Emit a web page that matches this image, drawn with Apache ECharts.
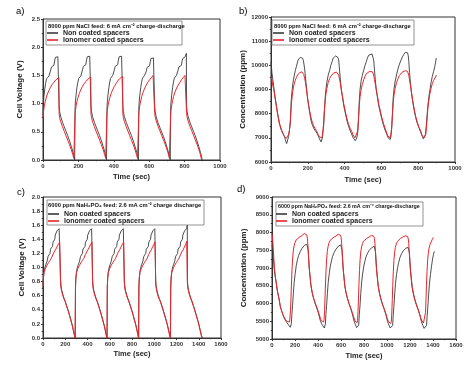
<!DOCTYPE html>
<html><head><meta charset="utf-8">
<script src="https://cdn.jsdelivr.net/npm/echarts@6/dist/echarts.min.js"></script>
<style>html,body{margin:0;padding:0;background:#fff}#c{width:474px;height:369px}</style>
</head><body><div id="c"></div>
<script>
// ---------- DATA ----------
const seriesNames = ['Non coated spacers', 'Ionomer coated spacers'];
const titles = [
  '8000 ppm NaCl feed: 6 mA cm\u207B\u00B2 charge-discharge',
  '8000 ppm NaCl feed: 6 mA cm\u207B\u00B2 charge-discharge',
  '6000 ppm NaH\u2082PO\u2084 feed: 2.6 mA cm\u207B\u00B2 charge discharge',
  '6000 ppm NaH\u2082PO\u2084 feed: 2.6 mA cm\u207B\u00B2 charge-discharge'
];
const panelLabels = ['a)', 'b)', 'c)', 'd)'];
const xNames = ['Time (sec)', 'Time (sec)', 'Time (sec)', 'Time (sec)'];
const yNames = ['Cell Voltage (V)', 'Concentration (ppm)', 'Cell Voltage (V)', 'Concentration (ppm)'];

// panel a: cell voltage, NaCl
const aBlack = [[0,0.8],[2,1.0],[5,1.12],[10,1.26],[15,1.36],[20,1.44],[27,1.47],[34,1.49],[40,1.52],[44,1.6],[48,1.65],[55,1.66],[62,1.68],[66,1.76],[70,1.82],[76,1.84],[84,1.83],[90,1.82],
[91,0.96],[94,0.86],[100,0.77],[110,0.67],[120,0.59],[130,0.51],[140,0.43],[150,0.34],[160,0.24],[170,0.13],[177,0.04],[179,0],
[181,0.9],[183,1.03],[187,1.16],[192,1.29],[197,1.38],[202,1.45],[208,1.47],[214,1.49],[220,1.52],[224,1.61],[228,1.66],[235,1.66],[242,1.69],[246,1.77],[250,1.83],[256,1.85],[264,1.84],[270,1.83],
[271,0.96],[274,0.86],[280,0.77],[290,0.67],[300,0.59],[310,0.51],[320,0.43],[330,0.34],[340,0.24],[350,0.13],[357,0.04],[359,0],
[361,0.88],[363,1.02],[367,1.15],[372,1.28],[377,1.38],[382,1.45],[388,1.48],[394,1.5],[400,1.53],[404,1.61],[408,1.66],[415,1.67],[422,1.69],[426,1.77],[430,1.83],[436,1.85],[444,1.84],[450,1.82],
[451,0.96],[454,0.86],[460,0.77],[470,0.67],[480,0.59],[490,0.51],[500,0.43],[510,0.34],[520,0.24],[530,0.13],[537,0.04],[539,0],
[541,0.88],[543,1.02],[547,1.15],[552,1.28],[557,1.38],[562,1.45],[568,1.48],[574,1.5],[580,1.52],[584,1.58],[588,1.64],[595,1.65],[602,1.67],[606,1.74],[610,1.8],[616,1.82],[624,1.81],[630,1.81],
[631,0.95],[634,0.85],[640,0.76],[650,0.66],[660,0.58],[670,0.5],[680,0.42],[690,0.33],[700,0.23],[710,0.12],[717,0.04],[719,0],
[721,0.88],[723,1.02],[727,1.15],[732,1.28],[737,1.38],[742,1.45],[748,1.48],[754,1.5],[760,1.52],[764,1.6],[768,1.65],[775,1.66],[782,1.68],[786,1.76],[790,1.8],[796,1.82],[803,1.83],[807,1.85],[810,1.89],
[811,0.96],[814,0.86],[820,0.77],[830,0.67],[840,0.59],[850,0.51],[860,0.43],[870,0.34],[880,0.24],[890,0.13],[897,0.04],[899,0]];
const aRed = [[0,0.75],[3,0.86],[7,0.95],[12,1.03],[18,1.1],[25,1.17],[33,1.23],[42,1.29],[52,1.34],[62,1.38],[72,1.42],[82,1.45],[90,1.46],
[91,0.83],[94,0.75],[100,0.68],[110,0.59],[120,0.51],[130,0.43],[140,0.35],[150,0.27],[160,0.18],[168,0.1],[174,0.03],[177,0],
[180,0],[181,0.78],[183,0.87],[187,0.96],[192,1.04],[198,1.11],[205,1.18],[213,1.24],[222,1.3],[232,1.35],[242,1.39],[252,1.43],[262,1.46],[270,1.47],
[271,0.83],[274,0.75],[280,0.68],[290,0.59],[300,0.51],[310,0.43],[320,0.35],[330,0.27],[340,0.18],[348,0.1],[354,0.03],[357,0],
[360,0],[361,0.78],[363,0.87],[367,0.96],[372,1.04],[378,1.11],[385,1.18],[393,1.24],[402,1.3],[412,1.35],[422,1.4],[432,1.44],[442,1.47],[450,1.48],
[451,0.83],[454,0.75],[460,0.68],[470,0.59],[480,0.51],[490,0.43],[500,0.35],[510,0.27],[520,0.18],[528,0.1],[534,0.03],[537,0],
[540,0],[541,0.79],[543,0.88],[547,0.97],[552,1.05],[558,1.13],[565,1.2],[573,1.26],[582,1.32],[592,1.38],[602,1.42],[612,1.46],[622,1.5],[630,1.52],
[631,0.84],[634,0.76],[640,0.69],[650,0.6],[660,0.52],[670,0.44],[680,0.36],[690,0.28],[700,0.19],[708,0.11],[714,0.03],[717,0],
[720,0],[721,0.79],[723,0.88],[727,0.97],[732,1.05],[738,1.13],[745,1.2],[753,1.26],[762,1.32],[772,1.37],[782,1.42],[792,1.46],[802,1.5],[810,1.52],
[811,0.84],[814,0.76],[820,0.69],[830,0.6],[840,0.52],[850,0.44],[860,0.36],[870,0.28],[880,0.19],[888,0.11],[894,0.03],[897,0]];

// panel b: concentration, NaCl
const bBlack = [[0,10150],[5,9700],[10,9400],[15,9120],[22,8700],[28,8400],[33,8160],[40,7850],[45,7650],[50,7470],[57,7300],[63,7200],[69,7120],[74,7050],[78,6920],[82,6850],[85,6760],[87,6680],[90,6720],[93,6800],[96,7060],[100,7300],[105,7600],[110,8570],[114,8900],[118,9190],[122,9400],[127,9600],[132,9780],[138,9950],[143,10100],[147,10220],[153,10280],[159,10330],[165,10320],[172,10290],[176,10200],[178,10150],
[183,9850],[187,9530],[192,9150],[196,8840],[200,8550],[205,8300],[211,8000],[217,7740],[224,7550],[232,7400],[240,7300],[250,7190],[257,7080],[264,6950],[268,6870],[272,6830],[275,6880],[279,6990],[283,7300],[286,7470],[290,8100],[295,8700],[299,9050],[304,9320],[311,9600],[319,9800],[325,10000],[332,10150],[338,10300],[344,10380],[352,10390],[359,10360],[364,10320],[368,10220],
[372,9850],[377,9390],[382,9000],[388,8700],[395,8350],[404,8020],[413,7700],[422,7470],[431,7280],[440,7120],[447,7000],[453,6920],[458,6880],[462,6890],[466,6990],[471,7190],[475,7700],[480,8570],[484,9000],[489,9320],[496,9580],[504,9800],[511,10000],[518,10150],[524,10300],[531,10420],[540,10460],[549,10470],[554,10420],[558,10220],
[562,9850],[567,9400],[572,9000],[578,8700],[585,8350],[594,8050],[603,7750],[612,7500],[621,7300],[630,7130],[637,7000],[643,6920],[648,6930],[652,7050],[656,7400],[660,8000],[664,8650],[669,9050],[675,9350],[682,9600],[690,9850],[698,10050],[706,10200],[714,10350],[722,10450],[730,10540],[737,10570],[742,10520],[746,10400],[749,10150],
[753,9700],[758,9250],[764,8850],[770,8500],[778,8150],[786,7850],[795,7600],[805,7400],[815,7200],[823,7050],[828,6960],[832,6940],[836,6990],[840,7150],[844,7500],[848,7900],[852,8300],[858,8700],[864,9000],[870,9300],[877,9550],[884,9750],[890,9950],[894,10100],[898,10300]];
const bRed = [[0,9530],[5,9400],[10,9150],[15,9000],[22,8650],[28,8350],[33,8100],[40,7800],[45,7600],[50,7500],[57,7330],[63,7230],[69,7150],[72,7050],[75,7120],[78,7000],[81,7080],[84,6980],[87,7050],[90,6950],[93,7020],[96,7150],[100,7300],[105,7700],[110,8300],[114,8650],[118,8900],[122,9100],[127,9250],[132,9380],[138,9500],[144,9600],[150,9650],[156,9700],[162,9720],[168,9730],[174,9700],[178,9620],
[183,9450],[187,9300],[192,9050],[196,8800],[200,8580],[205,8350],[211,8080],[217,7850],[224,7650],[232,7500],[240,7380],[250,7250],[255,7150],[259,7220],[263,7050],[267,7100],[270,6980],[273,7050],[276,6990],[279,7100],[283,7350],[286,7600],[290,8100],[295,8550],[299,8850],[304,9050],[311,9300],[319,9450],[325,9550],[332,9630],[340,9680],[348,9700],[356,9720],[362,9690],[368,9600],
[372,9450],[377,9250],[382,9000],[388,8750],[395,8420],[404,8080],[413,7780],[422,7550],[431,7380],[440,7250],[444,7150],[447,7230],[450,7080],[453,7120],[456,7000],[459,7060],[462,6990],[466,7080],[471,7280],[475,7700],[480,8350],[484,8700],[489,8950],[496,9200],[504,9400],[511,9550],[518,9650],[526,9700],[534,9740],[542,9760],[550,9740],[555,9700],[558,9600],
[562,9420],[567,9220],[572,9000],[578,8750],[585,8420],[594,8120],[603,7820],[612,7580],[621,7380],[627,7250],[630,7180],[634,7100],[637,7150],[640,7030],[643,7080],[646,6990],[649,7050],[652,7150],[656,7450],[660,7950],[664,8450],[669,8800],[675,9050],[682,9280],[690,9450],[698,9580],[706,9660],[714,9720],[722,9760],[730,9780],[737,9780],[742,9750],[746,9680],[749,9580],
[753,9400],[758,9150],[764,8850],[770,8550],[778,8200],[786,7900],[795,7650],[805,7420],[815,7250],[820,7120],[823,7180],[826,7050],[829,7100],[832,7000],[835,7060],[838,7020],[841,7150],[845,7450],[849,7850],[853,8250],[858,8550],[864,8850],[870,9050],[877,9250],[884,9380],[890,9450],[895,9520],[898,9600]];

// panel c: cell voltage, NaH2PO4
const cBlack = [[0,0.71],[3,0.83],[8,0.93],[15,0.99],[25,1.04],[35,1.08],[42,1.1],[46,1.16],[55,1.18],[63,1.2],[67,1.26],[78,1.28],[86,1.3],[90,1.36],[100,1.38],[106,1.4],[110,1.46],[122,1.48],[126,1.52],[138,1.53],[145,1.55],[152,1.55],[157,1.54],
[158,0.82],[162,0.74],[168,0.68],[178,0.62],[190,0.56],[200,0.52],[212,0.46],[225,0.4],[238,0.33],[250,0.26],[262,0.19],[272,0.12],[282,0.05],[290,0],
[292,0.7],[295,0.83],[300,0.93],[307,0.99],[317,1.04],[327,1.08],[334,1.1],[338,1.16],[347,1.18],[355,1.2],[359,1.26],[370,1.28],[378,1.3],[382,1.36],[392,1.38],[398,1.4],[402,1.46],[414,1.48],[418,1.52],[430,1.53],[437,1.55],[442,1.55],[445,1.54],
[446,0.82],[450,0.74],[456,0.68],[466,0.62],[478,0.56],[488,0.52],[500,0.46],[512,0.4],[525,0.33],[537,0.26],[549,0.19],[559,0.12],[568,0.05],[576,0],
[578,0.7],[581,0.83],[586,0.93],[593,0.99],[603,1.04],[612,1.08],[619,1.1],[623,1.16],[632,1.18],[640,1.2],[644,1.26],[655,1.28],[663,1.3],[667,1.36],[677,1.38],[683,1.4],[687,1.46],[699,1.48],[703,1.52],[715,1.53],[722,1.55],[727,1.55],[730,1.54],
[731,0.82],[735,0.74],[741,0.68],[751,0.62],[763,0.56],[773,0.52],[785,0.46],[797,0.4],[810,0.33],[822,0.26],[834,0.19],[844,0.12],[853,0.05],[860,0],
[862,0.7],[865,0.83],[870,0.93],[877,0.99],[887,1.04],[896,1.08],[903,1.1],[907,1.16],[916,1.18],[924,1.2],[928,1.26],[939,1.28],[947,1.3],[951,1.36],[961,1.38],[967,1.4],[971,1.46],[983,1.48],[987,1.52],[999,1.53],[1005,1.55],[1010,1.55],[1012,1.54],
[1013,0.82],[1017,0.74],[1023,0.68],[1033,0.62],[1045,0.56],[1056,0.52],[1068,0.46],[1080,0.4],[1093,0.33],[1106,0.26],[1118,0.19],[1128,0.12],[1138,0.05],[1146,0],
[1148,0.7],[1151,0.83],[1156,0.93],[1163,0.99],[1173,1.04],[1182,1.08],[1189,1.1],[1193,1.16],[1202,1.18],[1210,1.2],[1214,1.26],[1225,1.28],[1233,1.3],[1237,1.36],[1247,1.38],[1253,1.4],[1257,1.46],[1269,1.48],[1273,1.52],[1285,1.53],[1290,1.55],[1294,1.56],[1297,1.6],
[1298,0.82],[1302,0.74],[1308,0.68],[1318,0.62],[1330,0.56],[1340,0.52],[1352,0.46],[1364,0.4],[1377,0.33],[1390,0.26],[1402,0.19],[1412,0.12],[1422,0.05],[1432,0]];
const cRed = [[0,0.74],[4,0.86],[10,0.93],[20,0.98],[35,1.03],[50,1.07],[62,1.1],[75,1.13],[88,1.18],[100,1.22],[112,1.25],[125,1.29],[138,1.33],[150,1.36],[157,1.37],
[158,0.78],[162,0.71],[168,0.66],[178,0.6],[190,0.55],[200,0.51],[212,0.45],[225,0.39],[238,0.32],[250,0.25],[262,0.18],[272,0.11],[282,0.04],[288,0],
[291,0],[292,0.74],[296,0.86],[302,0.93],[312,0.98],[327,1.03],[342,1.07],[354,1.1],[367,1.13],[380,1.18],[392,1.22],[404,1.25],[417,1.29],[430,1.33],[440,1.36],[445,1.37],
[446,0.78],[450,0.71],[456,0.66],[466,0.6],[478,0.55],[488,0.51],[500,0.45],[512,0.39],[525,0.32],[537,0.25],[549,0.18],[559,0.11],[568,0.04],[575,0],
[577,0],[578,0.74],[582,0.86],[588,0.93],[598,0.98],[613,1.03],[628,1.07],[640,1.1],[652,1.13],[665,1.18],[677,1.22],[689,1.25],[701,1.29],[714,1.33],[725,1.36],[730,1.37],
[731,0.78],[735,0.71],[741,0.66],[751,0.6],[763,0.55],[773,0.51],[785,0.45],[797,0.39],[810,0.32],[822,0.25],[834,0.18],[844,0.11],[853,0.04],[859,0],
[861,0],[862,0.74],[866,0.86],[872,0.93],[882,0.98],[897,1.03],[912,1.07],[924,1.1],[936,1.13],[949,1.18],[961,1.22],[973,1.25],[985,1.29],[997,1.33],[1007,1.36],[1012,1.37],
[1013,0.78],[1017,0.71],[1023,0.66],[1033,0.6],[1045,0.55],[1056,0.51],[1068,0.45],[1080,0.39],[1093,0.32],[1106,0.25],[1118,0.18],[1128,0.11],[1138,0.04],[1145,0],
[1147,0],[1148,0.74],[1152,0.86],[1158,0.93],[1168,0.98],[1183,1.03],[1198,1.07],[1210,1.1],[1222,1.13],[1235,1.18],[1247,1.22],[1259,1.25],[1271,1.29],[1283,1.33],[1292,1.37],[1297,1.39],
[1298,0.78],[1302,0.71],[1308,0.66],[1318,0.6],[1330,0.55],[1340,0.51],[1352,0.45],[1364,0.39],[1377,0.32],[1390,0.25],[1402,0.18],[1412,0.11],[1422,0.04],[1430,0]];

// panel d: concentration, NaH2PO4
const dBlack = [[0,7660],[4,7560],[8,7450],[12,7300],[16,7100],[20,6950],[25,6820],[30,6720],[36,6600],[43,6440],[50,6300],[58,6180],[65,6060],[72,5920],[80,5830],[87,5760],[94,5690],[101,5630],[108,5580],[116,5530],[123,5490],[130,5460],[138,5420],[145,5390],[150,5370],[155,5350],[159,5330],
[164,5360],[168,5430],[173,5700],[179,5950],[186,6300],[193,6600],[202,6850],[211,7070],[221,7230],[231,7350],[245,7460],[260,7550],[271,7600],[283,7640],[294,7660],[303,7670],[309,7630],[314,7510],[319,7260],[324,6990],[331,6760],[338,6520],[349,6310],[361,6150],[375,6000],[390,5870],[404,5720],[419,5530],[431,5430],[443,5370],[450,5330],[455,5310],
[460,5340],[464,5420],[469,5700],[475,5950],[482,6300],[489,6600],[498,6850],[507,7050],[517,7200],[527,7330],[541,7440],[556,7530],[567,7580],[579,7620],[590,7640],[598,7650],[604,7610],[609,7490],[614,7240],[619,6970],[626,6740],[633,6500],[644,6300],[656,6140],[670,5990],[685,5850],[699,5700],[714,5500],[726,5400],[736,5320],[741,5290],[745,5270],
[750,5300],[754,5390],[759,5680],[765,5930],[772,6280],[779,6580],[788,6830],[797,7030],[807,7180],[817,7310],[831,7420],[846,7500],[857,7550],[869,7580],[880,7600],[889,7610],[895,7570],[900,7450],[905,7200],[910,6940],[917,6720],[924,6490],[935,6290],[947,6130],[961,5980],[976,5840],[990,5690],[1005,5490],[1017,5390],[1028,5310],[1035,5280],[1040,5265],
[1045,5290],[1049,5380],[1054,5670],[1060,5920],[1067,6270],[1074,6570],[1083,6820],[1092,7010],[1102,7160],[1112,7290],[1126,7400],[1141,7480],[1152,7530],[1164,7560],[1175,7575],[1184,7580],[1190,7540],[1195,7420],[1200,7180],[1205,6920],[1212,6700],[1219,6480],[1230,6280],[1242,6120],[1256,5970],[1271,5830],[1285,5680],[1300,5480],[1312,5380],[1323,5300],[1330,5270],[1335,5260],
[1340,5290],[1344,5380],[1349,5650],[1355,5900],[1362,6250],[1369,6550],[1378,6820],[1387,7050],[1396,7250],[1404,7380],[1412,7470]];
const dRed = [[0,7970],[4,7850],[8,7700],[12,7500],[16,7250],[20,7050],[25,6880],[30,6730],[36,6600],[43,6430],[50,6300],[58,6180],[65,6060],[72,5920],[80,5830],[87,5760],[94,5700],[101,5640],[108,5590],[116,5550],[123,5520],[128,5540],[133,5490],[138,5510],[143,5470],[148,5500],[153,5480],[157,5530],
[161,5800],[165,6150],[169,6550],[174,6950],[179,7250],[185,7480],[192,7620],[200,7720],[210,7790],[222,7830],[235,7860],[248,7890],[260,7910],[270,7950],[280,7970],[290,7960],[300,7940],[306,7880],[310,7750],[314,7550],[319,7250],[324,6990],[331,6760],[338,6530],[349,6320],[361,6160],[375,6020],[390,5890],[404,5760],[414,5650],[422,5580],[428,5520],[434,5560],[439,5500],[444,5530],[449,5480],[453,5540],
[457,5800],[461,6150],[465,6550],[470,6950],[475,7250],[481,7470],[488,7610],[496,7710],[506,7780],[518,7820],[531,7850],[544,7880],[556,7900],[566,7930],[576,7950],[586,7940],[596,7920],[601,7860],[605,7730],[609,7530],[614,7230],[619,6970],[626,6740],[633,6510],[644,6300],[656,6150],[670,6000],[685,5870],[699,5740],[709,5630],[717,5560],[722,5500],[727,5540],[732,5480],[737,5510],[741,5460],[744,5520],
[748,5780],[752,6130],[756,6530],[761,6930],[766,7230],[772,7450],[779,7590],[787,7690],[797,7760],[809,7800],[822,7830],[835,7860],[847,7880],[857,7900],[867,7920],[877,7910],[886,7890],[891,7830],[895,7700],[899,7500],[904,7200],[909,6950],[916,6720],[923,6490],[934,6290],[946,6130],[960,5980],[975,5850],[989,5720],[999,5610],[1007,5540],[1013,5480],[1018,5520],[1023,5460],[1028,5500],[1033,5440],[1038,5500],
[1042,5760],[1046,6110],[1050,6510],[1055,6910],[1060,7210],[1066,7440],[1073,7580],[1081,7680],[1091,7750],[1103,7800],[1116,7830],[1129,7860],[1141,7880],[1151,7900],[1161,7910],[1171,7900],[1180,7880],[1185,7820],[1189,7690],[1193,7490],[1198,7190],[1203,6940],[1210,6710],[1217,6480],[1228,6280],[1240,6120],[1254,5970],[1269,5840],[1283,5710],[1293,5600],[1301,5530],[1307,5480],[1312,5510],[1317,5450],[1322,5490],[1327,5440],[1331,5500],
[1335,5750],[1339,6100],[1343,6500],[1348,6900],[1353,7200],[1359,7420],[1366,7560],[1374,7660],[1383,7730],[1393,7800],[1402,7860]];

const xRanges = [[0,1000,200],[0,1000,200],[0,1600,200],[0,1600,200]];
const yRanges = [[0,2.5,0.5],[6000,12000,1000],[0,2.0,0.2],[5000,9000,500]];

// ---------- LAYOUT ----------
const FONT = '"Liberation Sans", Arial, sans-serif';
const gridBoxes = [
  {left:43, top:19, width:177, height:141},
  {left:271, top:17, width:184, height:145},
  {left:43, top:197, width:178, height:141},
  {left:272, top:197, width:184, height:142}
];
const yNameGaps = [19, 24, 17, 24];
const xNameGaps = [13, 14, 12, 13];
const legendPos = [ // box rect, title pos, legend pos, title font size
  {box:[46,21,136,24], title:[48,26], leg:[47,29.5], fs:5.8},
  {box:[272,20,142,25], title:[274,26], leg:[273,29.5], fs:5.8},
  {box:[47,200,157,25], title:[48,205], leg:[48,210.5], fs:5.8},
  {box:[276,202,147,24], title:[278,207], leg:[276,210.5], fs:5.35}
];
const labelPos = [[16,6],[239,6],[17,187],[237,184]];
const BLACK = '#3a3a3a', RED = '#e8252b';
const seriesData = [[aBlack,aRed],[bBlack,bRed],[cBlack,cRed],[dBlack,dRed]];

const tickLabel = {fontSize:6, fontWeight:'bold', color:'#333', fontFamily:FONT, margin:3};
const axisLine = {show:true, lineStyle:{color:'#333', width:1}};

const option = {
  animation:false,
  textStyle:{fontFamily:FONT},
  grid: gridBoxes.map(g => Object.assign({show:true, borderColor:'#333', borderWidth:1, backgroundColor:'#fff'}, g)),
  xAxis: xRanges.map((r,i) => ({
    type:'value', gridIndex:i, min:r[0], max:r[1], interval:r[2],
    name:xNames[i], nameLocation:'middle', nameGap:xNameGaps[i],
    nameTextStyle:{fontSize:7.5, fontWeight:'bold', color:'#222', fontFamily:FONT},
    axisLine, axisTick:{show:true, length:2, lineStyle:{color:'#333'}},
    minorTick:{show:true, splitNumber:2, length:1.2, lineStyle:{color:'#333'}},
    axisLabel:Object.assign({}, tickLabel, {formatter: v => String(v)}), splitLine:{show:false}
  })),
  yAxis: yRanges.map((r,i) => ({
    type:'value', gridIndex:i, min:r[0], max:r[1], interval:r[2],
    name:yNames[i], nameLocation:'middle', nameGap:yNameGaps[i], nameRotate:90,
    nameTextStyle:{fontSize:8, fontWeight:'bold', color:'#222', fontFamily:FONT},
    axisLine, axisTick:{show:true, length:2, lineStyle:{color:'#333'}},
    minorTick:{show:true, splitNumber:2, length:1.2, lineStyle:{color:'#333'}},
    axisLabel:Object.assign({}, tickLabel, {formatter: v => (r[2] < 1 ? v.toFixed(1) : String(v))}),
    splitLine:{show:false}
  })),
  legend: legendPos.map(p => ({
    data:seriesNames, orient:'vertical', left:p.leg[0], top:p.leg[1], padding:0, z:80, zlevel:0,
    itemWidth:11, itemHeight:1.6, itemGap:0, icon:'rect', selectedMode:false,
    textStyle:{fontSize:7, fontWeight:'bold', color:'#222', fontFamily:FONT, lineHeight:7}
  })),
  graphic: {elements: [].concat(
    legendPos.map(p => ({type:'rect', silent:true, z:1, zlevel:0, shape:{x:p.box[0], y:p.box[1], width:p.box[2], height:p.box[3]},
      style:{fill:'#fff', stroke:'#666', lineWidth:0.7}})),
    legendPos.map((p,i) => ({type:'text', silent:true, z:90, x:p.title[0], y:p.title[1],
      style:{text:titles[i], fontSize:p.fs, fontWeight:'bold', fill:'#111', fontFamily:FONT, verticalAlign:'middle'}})),
    labelPos.map((p,i) => ({type:'text', silent:true, z:90, x:p[0], y:p[1],
      style:{text:panelLabels[i], fontSize:9.5, fill:'#000', fontFamily:FONT}}))
  )},
  series: []
};
seriesData.forEach((pair,i) => {
  pair.forEach((d,k) => {
    option.series.push({
      type:'line', name:seriesNames[k], xAxisIndex:i, yAxisIndex:i, data:d,
      showSymbol:false, symbol:'none', z: k ? 3 : 2,
      lineStyle:{width: k ? 1 : 0.9, color: k ? RED : BLACK},
      itemStyle:{color: k ? RED : BLACK}
    });
  });
});
const chart = echarts.init(document.getElementById('c'), null, {renderer:'canvas'});
chart.setOption(option);
</script></body></html>
